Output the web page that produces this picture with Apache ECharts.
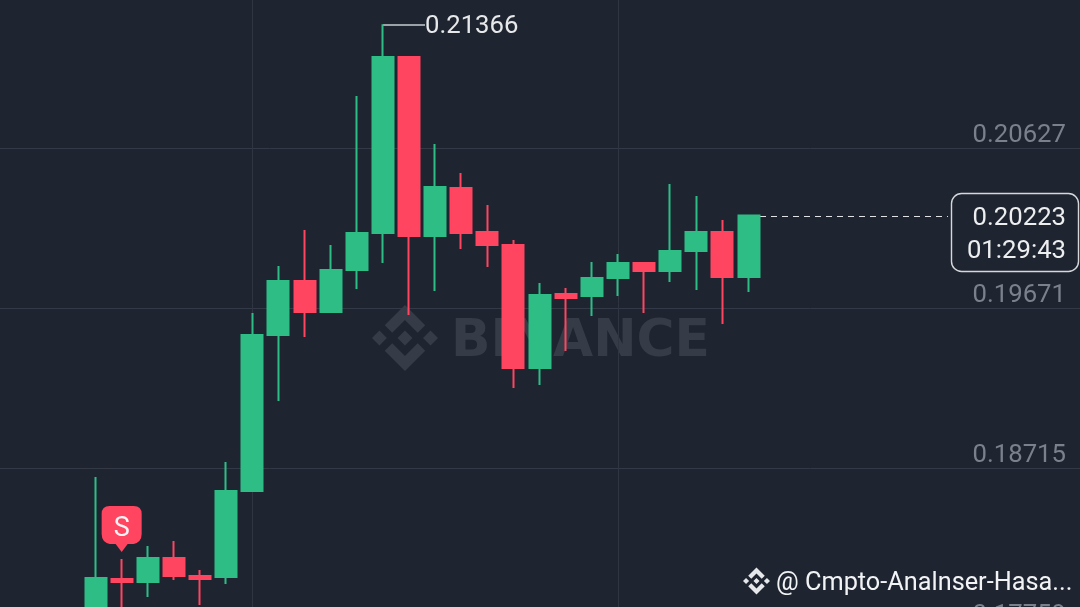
<!DOCTYPE html>
<html><head><meta charset="utf-8">
<style>html,body{margin:0;padding:0;background:#1f2530;overflow:hidden}#c{width:1080px;height:607px}</style>
<script src="https://cdn.jsdelivr.net/npm/echarts@6/dist/echarts.min.js"></script>
</head><body><div id="c"></div>
<script>
const opens  = [.17777,.18052,.18034,.18177,.18070,.18064,.18578,.19510,.19832,.19647,.19898,.20119,.21171,.20101,.20388,.20125,.20047,.19313,.19755,.19743,.19850,.19940,.19892,.20012,.20125,.19856];
const closes = [.18058,.18034,.18177,.18070,.18052,.18578,.19510,.19832,.19647,.19898,.20119,.21171,.20101,.20394,.20119,.20047,.19313,.19749,.19731,.19850,.19940,.19892,.20012,.20125,.19856,.20223];
const lows   = [.17747,.17747,.17944,.18046,.17896,.18022,.18578,.19115,.19498,.19647,.19785,.19940,.19629,.19773,.20024,.19916,.19193,.19211,.19414,.19623,.19743,.19641,.19826,.19779,.19575,.19767];
const highs  = [.18661,.18171,.18249,.18279,.18106,.18751,.19641,.19922,.20137,.20047,.20938,.21366,.21171,.20651,.20478,.20286,.20077,.19820,.19791,.19946,.19994,.19940,.20412,.20340,.20197,.20227];
const priceTicks = [0.17759,0.18715,0.19671,0.20627];
const lastPrice = 0.20223, highPrice = 0.21366;
const countdown = '01:29:43';
const sellSignalIndex = 1, sellSignalLevel = 0.18351;
const verticalGridCandles = [6,20];
const author = '@ Cmpto-Analnser-Hasa...';
const leadPad = 4, trailPad = 13;

const FONT = 'Roboto';
const logo = 'path://M16.624 13.9202l2.7175 2.7154-7.353 7.353-7.353-7.352 2.7175-2.7164 4.6355 4.6595 4.6356-4.6595zm4.6366-4.6366L24 12l-2.7154 2.7164L18.5682 12l2.6924-2.7164zm-9.272.001l2.7163 2.6914-2.7164 2.7174v-.001L9.2721 12l2.7164-2.7154zm-9.2722-.001L5.4088 12l-2.6914 2.6924L0 12l2.7164-2.7164zM11.9885.0115l7.353 7.329-2.7174 2.7154-4.6356-4.6356-4.6355 4.6595-2.7174-2.7154 7.353-7.353z';
const total = leadPad + opens.length + trailPad;
const cats = Array.from({length: total}, (_, i) => 'k' + i);
const ohlc = cats.map((_, i) => {
  const k = i - leadPad;
  return (k >= 0 && k < opens.length) ? [opens[k], closes[k], lows[k], highs[k]] : ['-','-','-','-'];
});
const vIdx = verticalGridCandles.map(k => k + leadPad);

const chart = echarts.init(document.getElementById('c'), null, {renderer:'canvas', width:1080, height:607});
chart.setOption({
  animation:false,
  backgroundColor:'#1f2530',
  grid:{left:-22, right:-21.16, top:-12, bottom:-21, containLabel:false, outerBoundsMode:'none'},
  xAxis:{type:'category', data:cats, boundaryGap:true,
    axisLine:{show:false}, axisTick:{show:false}, axisLabel:{show:false},
    splitLine:{show:true, alignWithLabel:true, interval:(i)=>vIdx.includes(i), lineStyle:{color:'#2f3541',width:1}}},
  yAxis:{type:'value', position:'right', min:0.17759, max:0.21583, scale:true,
    axisLine:{show:false},
    axisTick:{show:false, customValues:priceTicks},
    axisLabel:{show:true, inside:true, margin:35.2, customValues:priceTicks, color:'#7b818c', fontFamily:FONT, fontSize:25.7,
      verticalAlign:'bottom', lineHeight:24, formatter:v=>v.toFixed(5)},
    splitLine:{show:true, lineStyle:{color:'#333946',width:1}}},
  graphic:{elements:[
    {type:'text', z:0, x:451, y:343, style:{text:'BINANCE', fill:'#363c47', font:'bold 51.8px "DejaVu Sans"', verticalAlign:'middle', align:'left'}, silent:true},
    {type:'rect', z:20, shape:{x:951.5,y:193.5,width:127,height:78,r:10}, style:{fill:'#1f2530',stroke:'#d5d7db',lineWidth:1.4}},
    {type:'text', z:21, x:1066, y:219, style:{text:lastPrice.toFixed(5), fill:'#eceef0', font:'25.7px '+FONT, align:'right', verticalAlign:'middle'}},
    {type:'text', z:21, x:1066, y:252, style:{text:countdown, fill:'#eceef0', font:'25.7px '+FONT, align:'right', verticalAlign:'middle'}},
    {type:'text', z:21, x:776, y:584, style:{text:author, fill:'#f2f3f5', font:'25.3px '+FONT, align:'left', verticalAlign:'middle'}}
  ]},
  series:[{
    type:'scatter', data:[], z:1, silent:true,
    markPoint:{z:1, silent:true, label:{show:false}, data:[
      {x:405, y:338, symbol:logo, symbolSize:[66,66], itemStyle:{color:'#363c47'}},
      {x:756.5, y:581, symbol:logo, symbolSize:[27,27], itemStyle:{color:'#e6e7ea'}}
    ]}
  },{
    type:'candlestick', data:ohlc, barWidth:21.5, z:5, clip:false,
    itemStyle:{color:'#2ebd85', color0:'#ff4560', borderColor:'#2ebd85', borderColor0:'#ff4560', borderWidth:2},
    markPoint:{symbol:'path://M8 0H32Q40 0 40 8V28Q40 36 32 38H26L20 46L14 38H8Q0 36 0 28V8Q0 0 8 0Z', symbolSize:[40,46], silent:true,
      itemStyle:{color:'#ff4560'},
      label:{show:true, formatter:'S', color:'#f4f4f6', fontFamily:FONT, fontSize:27, offset:[0,0]},
      data:[{coord:[cats[sellSignalIndex+leadPad], sellSignalLevel]}]},
    markLine:{silent:true, symbol:'none', animation:false,
      data:[
        [{coord:[cats[11+leadPad], highPrice], lineStyle:{color:'#c9ccd1',width:1.5,type:'solid'},
          label:{show:true, position:'end', distance:0, offset:[0,2], formatter:highPrice.toFixed(5), color:'#e6e8ea', fontFamily:FONT, fontSize:25.7}},
         {x:425, y:24.3}],
        [{x:760, y:216, lineStyle:{color:'#e0e2e5',width:1.2,type:[6,5]}, label:{show:false}},
         {x:948, y:216}]
      ]}
  }]
});
</script></body></html>
